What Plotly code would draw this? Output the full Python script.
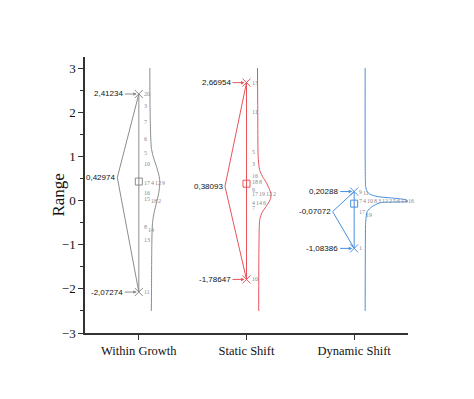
import plotly.graph_objects as go

# ---------------- data ----------------
groups = ["Within Growth", "Static Shift", "Dynamic Shift"]
colors = ["#8c8c8c", "#e8545a", "#4a8fdc"]

# statistics shown as labels
stat_max = [2.41234, 2.66954, 0.20288]
stat_mean = [0.42974, 0.38093, -0.07072]
stat_min = [-2.07274, -1.78647, -1.08386]
stat_max_txt = ["2,41234", "2,66954", "0,20288"]
stat_mean_txt = ["0,42974", "0,38093", "-0,07072"]
stat_min_txt = ["-2,07274", "-1,78647", "-1,08386"]
mean_label_y = [0.52, 0.32, -0.25]

# individual observations (value, index label)
within_vals = [2.41234, 2.14, 1.77, 1.39, 1.07, 0.82, 0.40, 0.40, 0.40, 0.40,
               0.18, 0.03, -0.02, -0.02, -0.59, -0.66, -0.89, -2.07274]
within_ids = ["20", "3", "7", "6", "5", "10", "17", "4", "12", "9",
              "16", "15", "18", "2", "8", "14", "13", "11"]
static_vals = [2.66954, 2.0, 1.11, 0.82, 0.55, 0.41, 0.41, 0.23, 0.14, 0.14,
               0.14, 0.14, -0.05, -0.05, -0.05, -0.16, -1.78647]
static_ids = ["13", "11", "5", "3", "16", "18", "8", "9", "17", "19",
              "12", "2", "4", "14", "6", "7", "10"]
dynamic_vals = [0.20288, 0.18, -0.02, -0.02, -0.02, -0.02, -0.02, -0.02,
                -0.02, -0.02, -0.02, -0.02, -0.02, -0.27, -0.33, -1.08386]
dynamic_ids = ["9", "11", "7", "4", "10", "8", "3", "12", "2", "5",
               "6", "13", "16", "17", "19", "1"]

# half-violin outlines (value grid, relative width)
within_kde_y = [3.0, 2.5, 2.0, 1.5, 1.2, 1.0, 0.77, 0.55, 0.41, 0.18, -0.05,
                -0.27, -0.5, -0.75, -1.0, -1.5, -2.0, -2.5]
within_kde_w = [0, 0.01, 0.03, 0.08, 0.15, 0.33, 0.67, 0.93, 1.0, 0.9, 0.67,
                0.43, 0.27, 0.22, 0.2, 0.18, 0.17, 0.15]
static_kde_y = [3.0, 2.0, 1.0, 0.7, 0.55, 0.41, 0.25, 0.14, 0.02, -0.13, -0.27,
                -0.43, -1.0, -2.5]
static_kde_w = [0, 0.02, 0.05, 0.15, 0.36, 0.64, 0.88, 1.0, 0.93, 0.64, 0.34,
                0.17, 0.11, 0.09]
dynamic_kde_y = [3.0, 1.0, 0.5, 0.32, 0.2, 0.14, 0.09, 0.06, 0.02, -0.02, -0.05,
                 -0.14, -0.25, -0.5, -1.0, -2.5]
dynamic_kde_w = [0, 0, 0.005, 0.012, 0.047, 0.116, 0.28, 0.58, 0.93, 1.0, 0.35,
                 0.16, 0.047, 0.012, 0.005, 0]
kde_max_width = [0.093, 0.127, 0.40]

y_ticks = [-3, -2, -1, 0, 1, 2, 3]
y_title = "Range"

# ---------------- figure ----------------
positions = [1, 2, 3]
violin_offset = 0.102
label_offset = 0.2

vals_all = [within_vals, static_vals, dynamic_vals]
ids_all = [within_ids, static_ids, dynamic_ids]
kde_y_all = [within_kde_y, static_kde_y, dynamic_kde_y]
kde_w_all = [within_kde_w, static_kde_w, dynamic_kde_w]

fig = go.Figure()
annotations = []
label_font = dict(family="Liberation Sans, Arial", size=8, color="#111")

for i, pos in enumerate(positions):
    c = colors[i]
    # half violin
    base = pos + violin_offset
    fig.add_trace(go.Scatter(
        x=[base + w * kde_max_width[i] for w in kde_w_all[i]], y=kde_y_all[i],
        mode="lines", line=dict(color=c, width=1, shape="spline", smoothing=0.7),
        hoverinfo="skip", showlegend=False))
    # label connector lines
    fig.add_trace(go.Scatter(
        x=[pos, pos - label_offset, pos], y=[stat_max[i], mean_label_y[i], stat_min[i]],
        mode="lines", line=dict(color=c, width=1), hoverinfo="skip", showlegend=False))
    # range line
    fig.add_trace(go.Scatter(
        x=[pos, pos], y=[stat_max[i], stat_min[i]],
        mode="lines", line=dict(color=c, width=1), hoverinfo="skip", showlegend=False))
    # max/min markers
    fig.add_trace(go.Scatter(
        x=[pos, pos], y=[stat_max[i], stat_min[i]], mode="markers",
        marker=dict(symbol="x-thin-open", size=8, color=c, line=dict(color=c, width=1)),
        showlegend=False))
    # mean marker
    fig.add_trace(go.Scatter(
        x=[pos], y=[stat_mean[i]], mode="markers",
        marker=dict(symbol="square-open", size=7, color=c, line=dict(color=c, width=1)),
        showlegend=False))
    # stat labels
    annotations.append(dict(x=pos, y=stat_max[i], xref="x", yref="y", text=stat_max_txt[i],
                            showarrow=True, ax=-14, ay=0, xanchor="right", arrowhead=2,
                            arrowsize=0.7, arrowwidth=1, arrowcolor=c, font=label_font,
                            standoff=2))
    annotations.append(dict(x=pos, y=stat_min[i], xref="x", yref="y", text=stat_min_txt[i],
                            showarrow=True, ax=-14, ay=0, xanchor="right", arrowhead=2,
                            arrowsize=0.7, arrowwidth=1, arrowcolor=c, font=label_font,
                            standoff=2))
    annotations.append(dict(x=pos - label_offset, y=mean_label_y[i], xref="x", yref="y",
                            text=stat_mean_txt[i], showarrow=False, xanchor="right",
                            xshift=0, font=label_font))
    # index labels, shifted sideways when they collide
    order = sorted(range(len(vals_all[i])), key=lambda k: -vals_all[i][k])
    prev_v = None
    shift = 0
    prev_len = 0
    for k in order:
        v = vals_all[i][k]
        t = ids_all[i][k]
        if prev_v is not None and abs(v - prev_v) < 0.08:
            shift += prev_len * 3.0 + 1.0
        else:
            shift = 3
            prev_v = v
        prev_len = len(t)
        annotations.append(dict(x=pos, y=v, xref="x", yref="y", text=t, showarrow=False,
                                xanchor="left", xshift=shift,
                                font=dict(family="Liberation Serif", size=6, color="#8a8a8a")))

# y-axis title
annotations.append(dict(x=-0.085, y=0.5, xref="paper", yref="paper", text=y_title,
                        showarrow=False, textangle=-90, xanchor="center", yanchor="middle",
                        font=dict(family="Liberation Serif", size=17, color="#111")))

axis_font = dict(family="Liberation Serif, DejaVu Serif", size=13, color="#111")
fig.update_layout(
    width=474, height=399,
    margin=dict(l=85, r=66, t=57, b=66, autoexpand=False),
    plot_bgcolor="white", paper_bgcolor="white",
    annotations=annotations,
    xaxis=dict(range=[0.5, 3.5], tickvals=positions, ticktext=groups, ticks="outside",
               ticklen=5, tickwidth=1.3, tickcolor="#333", showline=True, linecolor="#333",
               linewidth=1.5, showgrid=False, zeroline=False,
               tickfont=dict(family="Liberation Serif, DejaVu Serif", size=12.5, color="#111")),
    yaxis=dict(range=[-3, 3.25], tickvals=y_ticks, ticks="outside", ticklen=5,
               tickwidth=1.3, tickcolor="#333", showline=True, linecolor="#333",
               linewidth=1.5, showgrid=False, zeroline=False, tickfont=axis_font,
               minor=dict(ticks="outside", ticklen=3, tickcolor="#333", dtick=0.5,
                          tick0=0.5, showgrid=False)),
    showlegend=False,
)

fig.write_html("out.html", config={"displayModeBar": False})
with open("out.html", "r", encoding="utf-8") as f:
    html = f.read()
html = html.replace("<body>", '<body style="margin:0">', 1)
with open("out.html", "w", encoding="utf-8") as f:
    f.write(html)
